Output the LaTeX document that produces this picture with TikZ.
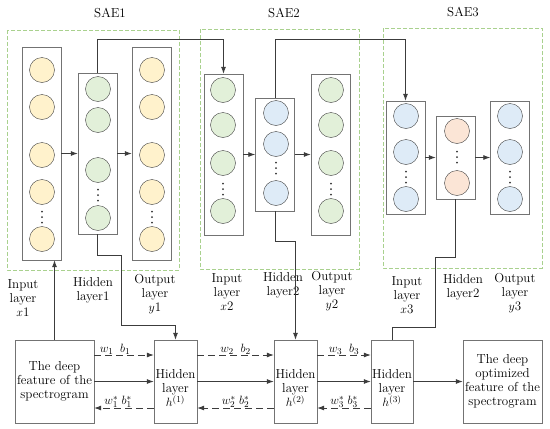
\documentclass[tikz,border=0pt]{standalone}
\usepackage{fontspec}
\usetikzlibrary{arrows.meta}
\definecolor{nyellow}{RGB}{255,242,204}
\definecolor{ngreen}{RGB}{226,240,217}
\definecolor{nblue}{RGB}{222,235,247}
\definecolor{norange}{RGB}{251,229,214}
\definecolor{saegreen}{RGB}{169,209,142}
\definecolor{linegray}{RGB}{60,60,60}
% three dots standing for the hidden units of a layer
\newcommand{\neurondots}[1]{\fill[black!80] (#1) ++(0,-5.5) circle (1pt) ++(0,5.5) circle (1pt) ++(0,5.5) circle (1pt);}
\begin{document}
\begin{tikzpicture}[x=1pt,y=-1pt,font=\fontsize{13}{14}\selectfont,
  neuron/.style={circle,draw=black!75,minimum size=25pt,inner sep=0pt},
  layerbox/.style={draw=black!55,inner sep=0pt,minimum width=39pt},
  block/.style={draw=black!55,inner sep=0pt,align=center,minimum height=83pt},
  saebox/.style={draw=saegreen,dash pattern=on 4pt off 2pt},
  link/.style={draw=linegray,thick},
  wlink/.style={link,dash pattern=on 7pt off 4pt},
  >={Latex[length=7pt,width=5pt]}]
\useasboundingbox (0,0) rectangle (550,429);

% the three autoencoders
\node (sae1) at (110,13) {SAE1};
\node (sae2) at (284,13) {SAE2};
\node (sae3) at (463,12) {SAE3};
\draw[saebox] (7,30) rectangle (179,270);
\draw[saebox] (200,29) rectangle (359,269);
\draw[saebox] (383,28) rectangle (542,268);

% SAE1
\node[layerbox,minimum height=213pt] (in1) at (41.5,153.5) {};
\node[layerbox,minimum height=161pt] (hid1) at (97.5,153.5) {};
\node[layerbox,minimum height=213pt] (out1) at (151.5,153.5) {};
\node[neuron,fill=nyellow] (in1a) at (42,70) {};
\node[neuron,fill=nyellow] (in1b) at (42,107) {};
\node[neuron,fill=nyellow] (in1c) at (42,155) {};
\node[neuron,fill=nyellow] (in1d) at (42,192) {};
\neurondots{42,217}
\node[neuron,fill=nyellow] (in1e) at (42,239) {};
\node[neuron,fill=ngreen] (hid1a) at (98,89) {};
\node[neuron,fill=ngreen] (hid1b) at (98,120) {};
\node[neuron,fill=ngreen] (hid1c) at (98,170) {};
\neurondots{98,195}
\node[neuron,fill=ngreen] (hid1d) at (98,218) {};
\node[neuron,fill=nyellow] (out1a) at (152,70) {};
\node[neuron,fill=nyellow] (out1b) at (152,107) {};
\node[neuron,fill=nyellow] (out1c) at (152,155) {};
\node[neuron,fill=nyellow] (out1d) at (152,192) {};
\neurondots{152,217}
\node[neuron,fill=nyellow] (out1e) at (152,239) {};
\draw[link,->] (in1) -- (hid1);
\draw[link,->] (hid1) -- (out1);

% SAE2
\node[layerbox,minimum height=161pt] (in2) at (223.5,154.5) {};
\node[layerbox,minimum height=113pt] (hid2) at (275,154.5) {};
\node[layerbox,minimum height=161pt] (out2) at (330.5,154.5) {};
\node[neuron,fill=ngreen] (in2a) at (223,90) {};
\node[neuron,fill=ngreen] (in2b) at (223,125) {};
\node[neuron,fill=ngreen] (in2c) at (223,163) {};
\neurondots{223,189}
\node[neuron,fill=ngreen] (in2d) at (223,211) {};
\node[neuron,fill=nblue] (hid2a) at (276,113) {};
\node[neuron,fill=nblue] (hid2b) at (276,144) {};
\neurondots{276,168}
\node[neuron,fill=nblue] (hid2c) at (276,193) {};
\node[neuron,fill=ngreen] (out2a) at (331,90) {};
\node[neuron,fill=ngreen] (out2b) at (331,125) {};
\node[neuron,fill=ngreen] (out2c) at (331,163) {};
\neurondots{331,189}
\node[neuron,fill=ngreen] (out2d) at (331,211) {};
\draw[link,->] (in2) -- (hid2);
\draw[link,->] (hid2) -- (out2);

% SAE3
\node[layerbox,minimum height=113pt] (in3) at (405.5,157.5) {};
\node[layerbox,minimum height=83pt] (hid3) at (455.5,157.5) {};
\node[layerbox,minimum height=113pt] (out3) at (510,157.5) {};
\node[neuron,fill=nblue] (in3a) at (406,116) {};
\node[neuron,fill=nblue] (in3b) at (406,152) {};
\neurondots{406,177}
\node[neuron,fill=nblue] (in3c) at (406,199) {};
\node[neuron,fill=norange] (hid3a) at (457,131) {};
\neurondots{457,157}
\node[neuron,fill=norange] (hid3b) at (457,183) {};
\node[neuron,fill=nblue] (out3a) at (510,116) {};
\node[neuron,fill=nblue] (out3b) at (510,152) {};
\neurondots{510,177}
\node[neuron,fill=nblue] (out3c) at (510,199) {};
\draw[link,->] (in3) -- (hid3);
\draw[link,->] (hid3) -- (out3);

% layer names
\node[align=center] (lin1) at (23,298) {Input\\layer\\$x$1};
\node[align=center] (lhid1) at (93,290) {Hidden\\layer1};
\node[align=center] (lout1) at (155,294) {Output\\layer\\$y$1};
\node[align=center] (lin2) at (227,292) {Input\\layer\\$x$2};
\node[align=center] (lhid2) at (283,285) {Hidden\\layer2};
\node[align=center] (lout2) at (332,291) {Output\\layer\\$y$2};
\node[align=center] (lin3) at (407,295) {Input\\layer\\$x$3};
\node[align=center] (lhid3) at (463,287) {Hidden\\layer2};
\node[align=center] (lout3) at (515,293) {Output\\layer\\$y$3};

% bottom row
\node[block,minimum width=79pt] (deep) at (54.5,381.5) {The deep\\feature of the\\spectrogram};
\node[block,minimum width=43pt] (h1) at (175.5,381.5) {\rule{0pt}{22pt}Hidden\\layer\\$h^{(1)}$};
\node[block,minimum width=43pt] (h2) at (295.5,381.5) {\rule{0pt}{22pt}Hidden\\layer\\$h^{(2)}$};
\node[block,minimum width=42pt] (h3) at (392,381.5) {\rule{0pt}{22pt}Hidden\\layer\\$h^{(3)}$};
\node[block,minimum width=79pt] (opt) at (502.5,381.5) {The deep\\optimized\\feature of the\\spectrogram};

\draw[wlink,->] ([yshift=26.5pt]deep.east) -- ([yshift=26.5pt]h1.west) node[pos=0.35,above,inner sep=0pt] {$w_1\;\;b_1$};
\draw[link,->] (deep) -- (h1);
\draw[wlink,->] ([yshift=-26.5pt]h1.west) -- ([yshift=-26.5pt]deep.east) node[pos=0.6,above,inner sep=0pt] {$w_1^*\;b_1^*$};
\draw[wlink,->] ([yshift=26.5pt]h1.east) -- ([yshift=26.5pt]h2.west) node[midway,above,inner sep=0pt] {$w_2\;\;b_2$};
\draw[link,->] (h1) -- (h2);
\draw[wlink,->] ([yshift=-26.5pt]h2.west) -- ([yshift=-26.5pt]h1.east) node[midway,above,inner sep=0pt] {$w_2^*\;b_2^*$};
\draw[wlink,->] ([yshift=26.5pt]h2.east) -- ([yshift=26.5pt]h3.west) node[midway,above,inner sep=0pt] {$w_3\;\;b_3$};
\draw[link,->] (h2) -- (h3);
\draw[wlink,->] ([yshift=-26.5pt]h3.west) -- ([yshift=-26.5pt]h2.east) node[midway,above,inner sep=0pt] {$w_3^*\;b_3^*$};
\draw[link,->] (h3) -- (opt);

% links between the parts
\draw[link,->] (deep.north) -- (deep.north |- in1.south);
\draw[link,->] (hid1.north) -- ++(0,-33) -| (in2.north);
\draw[link,->] (hid1.south) -- ++(0,21) -| ++(24,70) -| (h1.north);
\draw[link,->] (hid2.north) -- ++(0,-58) -| (in3.north);
\draw[link,->] (hid2.south) -- ++(0,30) -| (h2.north);
\draw[link] (hid3.south) -- ++(0,58) -| ++(-20,70) -| (h3.north);
\end{tikzpicture}
\end{document}
